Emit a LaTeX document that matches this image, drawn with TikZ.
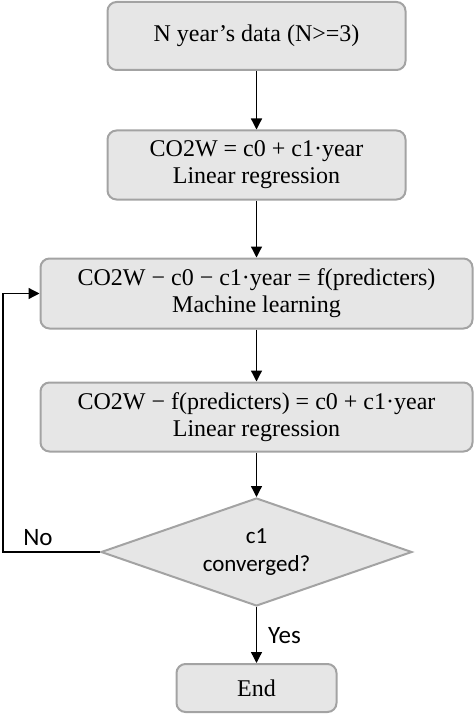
\documentclass[tikz,border=0pt]{standalone}
\usepackage{fontspec}
\setmainfont{Liberation Serif}
\newfontfamily\calib{Carlito}
\usetikzlibrary{shapes.geometric,arrows.meta}
\definecolor{boxfill}{HTML}{E6E6E6}
\definecolor{boxline}{HTML}{A3A3A3}
\tikzset{
  procbox/.style={draw=boxline, fill=boxfill, line width=2pt, rounded corners=9pt,
    align=center, inner sep=0pt, font=\fontsize{24}{27}\selectfont},
  decbox/.style={draw=boxline, fill=boxfill, line width=2pt, shape=diamond, aspect=2.88, inner sep=0pt,
    align=center, font=\calib\fontsize{23}{28}\selectfont},
  conn/.style={line width=1.3pt, -{Triangle[width=11pt,length=11pt]}},
  lbl/.style={font=\calib\fontsize{25}{28}\selectfont, inner sep=0pt}
}
\begin{document}
\begin{tikzpicture}[x=1pt,y=-1pt]
\useasboundingbox (0,0) rectangle (474,714);
\node[procbox, minimum width=298, minimum height=68] (n1) at (256.5,36) {N year’s data (N>=3)};
\node[procbox, minimum width=298, minimum height=69] (n2) at (256.5,165) {CO2W = c0 + c1·year\\Linear regression};
\node[procbox, minimum width=432, minimum height=70] (n3) at (256.5,293.5) {CO2W − c0 − c1·year = f(predicters)\\Machine learning};
\node[procbox, minimum width=432, minimum height=69] (n4) at (256.5,417) {CO2W − f(predicters) = c0 + c1·year\\Linear regression};
\node[decbox, minimum width=311, minimum height=108] (d) at (256.5,552) {c1\\converged?};
\node[procbox, minimum width=160, minimum height=48] (e) at (256.5,688) {End};
\coordinate (fb1) at (3,552);
\coordinate (fb2) at (3,293.5);
\draw[conn] (n1) -- (n2);
\draw[conn] (n2) -- (n3);
\draw[conn] (n3) -- (n4);
\draw[conn] (n4) -- (d);
\draw[conn] (d) -- (e);
\draw[conn] (d.west) -- (fb1) -- (fb2) -- (n3.west);
\node[lbl, anchor=west] (yes) at (268,636) {Yes};
\node[lbl] (no) at (38,538) {No};
\end{tikzpicture}
\end{document}
